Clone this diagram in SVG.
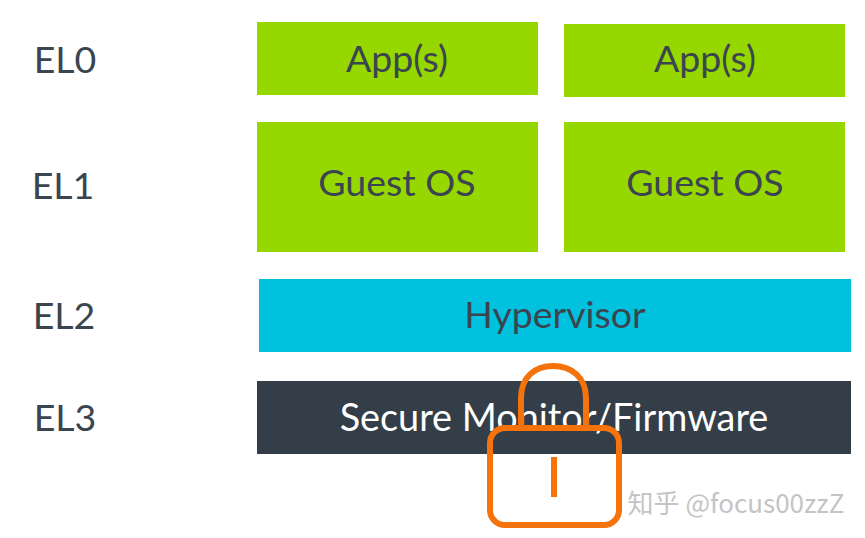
<svg xmlns="http://www.w3.org/2000/svg" width="865" height="538" viewBox="0 0 865 538">
<style>
text{font-family:Lato,"Liberation Sans",sans-serif;text-anchor:middle;fill:#3a4550}
.l{font-size:37.5px}
.b{font-size:37.5px}
.g{fill:#97d700}
.lock{fill:none;stroke:#f5730c;stroke-width:6}
</style>
<rect width="865" height="538" fill="#fff"/>
<g id="el0"><text class="l" x="65" y="73">EL0</text></g>
<g id="el1"><text class="l" x="63" y="199">EL1</text></g>
<g id="el2"><text class="l" x="64" y="329">EL2</text></g>
<g id="el3"><text class="l" x="65" y="431">EL3</text></g>
<g id="app1"><rect class="g" x="257" y="22" width="281" height="73"/><text class="b" x="397" y="72">App(s)</text></g>
<g id="app2"><rect class="g" x="564" y="24" width="281" height="73"/><text class="b" x="705" y="72">App(s)</text></g>
<g id="os1"><rect class="g" x="257" y="122" width="281" height="130"/><text class="b" x="397" y="196">Guest OS</text></g>
<g id="os2"><rect class="g" x="564" y="122" width="281" height="130"/><text class="b" x="705" y="196">Guest OS</text></g>
<g id="hyp"><rect x="259" y="279" width="592" height="73" fill="#00c1de"/><text class="b" x="555" y="328">Hypervisor</text></g>
<g id="sec"><rect x="257" y="381" width="594" height="73" fill="#333e48"/><text x="554" y="431" style="font-size:37.8px;fill:#fff">Secure Monitor/Firmware</text></g>
<g id="lock"><rect class="lock" x="490" y="428" width="129" height="97" rx="15"/><path class="lock" d="M521 428V398C521 377 535 366 553 366C571 366 586 377 586 398V428"/><path class="lock" d="M554 457V497"/></g>
<text x="736" y="513" style="font-size:26px;fill:#c4c4c4;font-family:'Noto Sans CJK SC',sans-serif">知乎 @focus00zzZ</text>
</svg>
